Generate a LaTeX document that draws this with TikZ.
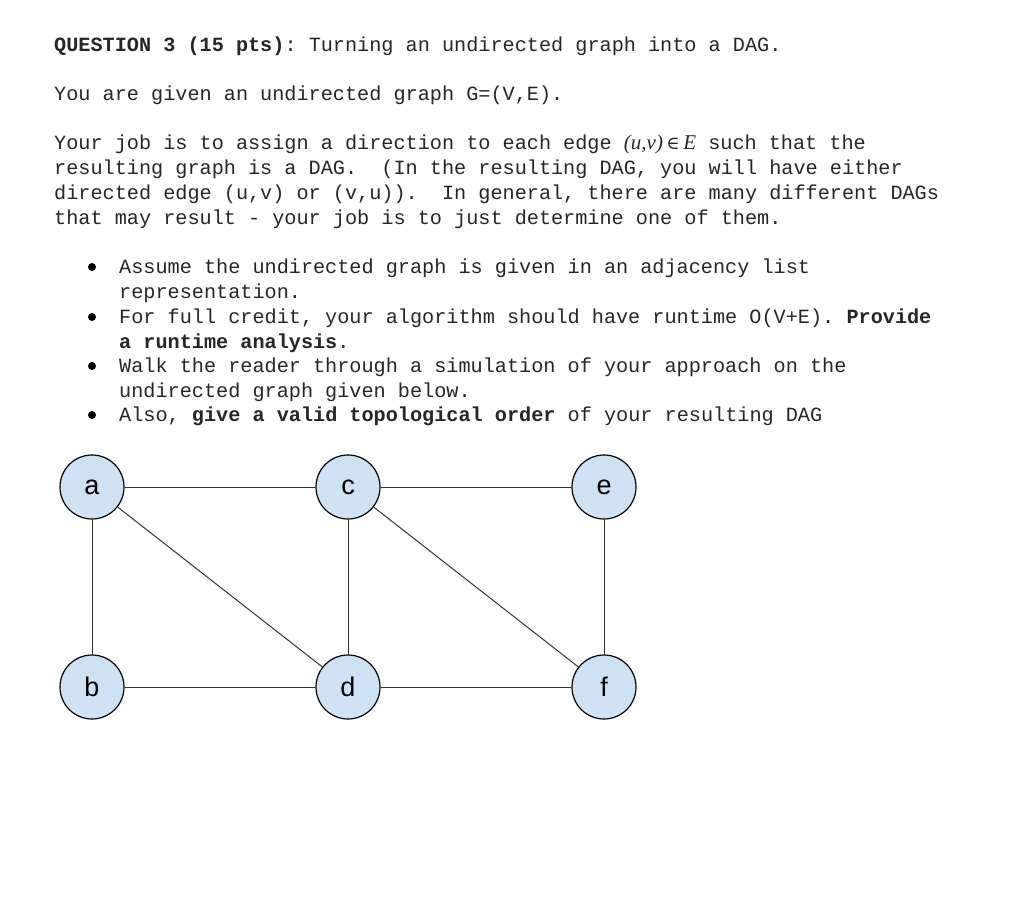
\documentclass[tikz,border=0pt]{standalone}
\usepackage{fontspec}
\setmonofont{Liberation Mono}
\setsansfont{Liberation Sans}
\newfontfamily\tms{Liberation Serif}
\newfontfamily\djv{DejaVu Serif}
\definecolor{nodeblue}{HTML}{CFE2F3}
\begin{document}
\begin{tikzpicture}[x=1pt,y=-1pt,
  txt/.style={anchor=base west,inner sep=0pt,font=\ttfamily\fontsize{20.2}{25}\selectfont,text=black!85},
  vert/.style={circle,draw=black,line width=1.2pt,fill=nodeblue,minimum size=64pt,inner sep=0pt,font=\sffamily\fontsize{27}{30}\selectfont},
  edge/.style={draw=black!80,line width=1pt},
  bul/.style={circle,fill=black,inner sep=0pt,minimum size=8pt}]
\useasboundingbox (0,0) rectangle (1024,902);
\fill[white] (0,0) rectangle (1024,902);
\node[txt] (t1) at (54,51) {\textbf{QUESTION 3 (15 pts)}: Turning an undirected graph into a DAG.};
\node[txt] (t2) at (54,100) {You are given an undirected graph G=(V,E).};
\node[txt] (p1) at (54,149) {Your job is to assign a direction to each edge {\tms\itshape\fontsize{21}{25}\selectfont(u,v)\,{\djv\upshape\fontsize{18}{25}\selectfont∈}\,E} such that the};
\node[txt] (p2) at (54,174) {resulting graph is a DAG.\ \ (In the resulting DAG, you will have either};
\node[txt] (p3) at (54,199) {directed edge (u,v) or (v,u)).\ \ In general, there are many different DAGs};
\node[txt] (p4) at (54,224) {that may result - your job is to just determine one of them.};
\node[bul] (b1) at (92,267) {};
\node[txt] (l1) at (119,273) {Assume the undirected graph is given in an adjacency list};
\node[txt] (l2) at (119,298) {representation.};
\node[bul] (b2) at (92,317) {};
\node[txt] (l3) at (119,323) {For full credit, your algorithm should have runtime O(V+E). \textbf{Provide}};
\node[txt] (l4) at (119,348) {\textbf{a runtime analysis}.};
\node[bul] (b3) at (92,366) {};
\node[txt] (l5) at (119,372) {Walk the reader through a simulation of your approach on the};
\node[txt] (l6) at (119,397) {undirected graph given below.};
\node[bul] (b4) at (92,415) {};
\node[txt] (l7) at (119,421) {Also, \textbf{give a valid topological order} of your resulting DAG};
\node[vert] (a) at (92,487) {a};
\node[vert] (c) at (348,487) {c};
\node[vert] (e) at (604,487) {e};
\node[vert] (b) at (92,687) {b};
\node[vert] (d) at (348,687) {d};
\node[vert] (f) at (604,687) {f};
\path[edge] (a) -- (c);
\path[edge] (c) -- (e);
\path[edge] (b) -- (d);
\path[edge] (d) -- (f);
\path[edge] (a) -- (b);
\path[edge] (c) -- (d);
\path[edge] (e) -- (f);
\path[edge] (a) -- (d);
\path[edge] (c) -- (f);
\end{tikzpicture}
\end{document}
